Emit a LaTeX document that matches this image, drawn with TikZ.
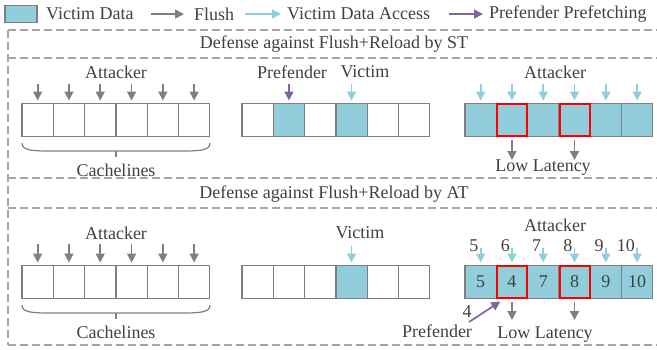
\documentclass[tikz,border=0pt]{standalone}
\usepackage{fontspec}
\setmainfont{Liberation Serif}
\usetikzlibrary{calc}
\usetikzlibrary{arrows.meta}
\usetikzlibrary{positioning}

\definecolor{victimblue}{HTML}{92CDDC}
\definecolor{flushgray}{HTML}{7F7F7F}
\definecolor{prefpurple}{HTML}{8064A2}
\definecolor{framegray}{HTML}{A6A6A6}
\definecolor{textgray}{HTML}{404040}

\tikzset{
  cell/.style={draw=flushgray, line width=1.2pt, minimum width=31.3pt, minimum height=33pt, inner sep=0pt, outer sep=0pt},
  vcell/.style={cell, fill=victimblue},
  hitcell/.style={draw=red, line width=2pt, minimum width=30pt, minimum height=32pt, inner sep=0pt},
  flush/.style={flushgray, line width=1.7pt, -{Triangle[width=9pt,length=9pt]}},
  access/.style={flush, victimblue},
  prefetch/.style={flush, prefpurple},
  gap/.style={shorten >=3pt},
  gapout/.style={shorten <=3pt},
  frameline/.style={framegray, line width=1.2pt, dash pattern=on 8pt off 4pt},
  txt/.style={inner sep=1pt}
}

\begin{document}
\begin{tikzpicture}[x=1pt,y=-1pt,font=\fontsize{18}{20}\selectfont,text=textgray]
  \useasboundingbox (0,0) rectangle (657,349);

  % legend
  \node[vcell, minimum width=32pt, minimum height=17pt] (key) at (21,14) {};
  \node[txt, anchor=west] (keyv) at (45,14) {Victim Data};
  \coordinate (kf1) at (151,14); \coordinate (kf2) at (184,14);
  \draw[flush] (kf1) -- (kf2);
  \node[txt, anchor=west] (keyf) at (193,14) {Flush};
  \coordinate (ka1) at (245,14); \coordinate (ka2) at (281,14);
  \draw[access] (ka1) -- (ka2);
  \node[txt, anchor=west] (keya) at (286,14) {Victim Data Access};
  \coordinate (kp1) at (449,14); \coordinate (kp2) at (483,14);
  \draw[prefetch] (kp1) -- (kp2);
  \node[txt, anchor=west] (keyp) at (488,14) {Prefender Prefetching};

  % frame
  \foreach \y in {30,58,178,208,345}
    \draw[frameline] (8,\y) -- (657,\y);
  \draw[frameline] (8,30) -- (8,345);
  \node[txt] (title1) at (334,44) {Defense against Flush+Reload by ST};
  \node[txt] (title2) at (334,194) {Defense against Flush+Reload by AT};

  % ST: attacker flushes
  \foreach \i in {1,...,6} {
    \node[cell] (s1a\i) at ({22+31.3*(\i-0.5)},120) {};
    \coordinate[above=20pt of s1a\i] (s1f\i);
    \draw[flush,gap] (s1f\i) -- (s1a\i);
  }
  \node[txt] (s1att) at (116,72) {Attacker};
  \draw[flushgray, line width=1.2pt] (22,143) .. controls (22,150) and (30,151) .. (50,151) -- (182,151)
    .. controls (202,151) and (210,150) .. (210,143);
  \draw[flushgray, line width=1.2pt] (116,151) -- (116,157);
  \node[txt] (s1cl) at (116,170) {Cachelines};

  % ST: victim and prefender
  \foreach \i/\c in {1/white,2/victimblue,3/white,4/victimblue,5/white,6/white}
    \node[cell, fill=\c] (s1v\i) at ({242+31.3*(\i-0.5)},120) {};
  \coordinate[above=20pt of s1v2] (s1p);
  \draw[prefetch,gap] (s1p) -- (s1v2);
  \coordinate[above=20pt of s1v4] (s1q);
  \draw[access,gap] (s1q) -- (s1v4);
  \node[txt] (s1pl) at (292,72) {Prefender};
  \node[txt] (s1vl) at (365,72) {Victim};

  % ST: attacker reloads
  \foreach \i in {1,...,6} {
    \node[vcell] (s1t\i) at ({465+31.3*(\i-0.5)},120) {};
    \coordinate[above=20pt of s1t\i] (s1r\i);
    \draw[access,gap] (s1r\i) -- (s1t\i);
  }
  \foreach \i in {2,4} {
    \node[hitcell] (s1h\i) at (s1t\i) {};
    \coordinate[below=23.5pt of s1t\i] (s1l\i);
    \draw[flush,gapout] (s1t\i) -- (s1l\i);
  }
  \node[txt] (s1att2) at (555,72) {Attacker};
  \node[txt] (s1low) at (543,168) {Low Latency};

  % AT: attacker flushes
  \foreach \i in {1,...,6} {
    \node[cell] (s2a\i) at ({22+31.3*(\i-0.5)},282) {};
    \coordinate[above=22pt of s2a\i] (s2f\i);
    \draw[flush,gap] (s2f\i) -- (s2a\i);
  }
  \node[txt] (s2att) at (116,233) {Attacker};
  \draw[flushgray, line width=1.2pt] (22,305) .. controls (22,312) and (30,313) .. (50,313) -- (182,313)
    .. controls (202,313) and (210,312) .. (210,305);
  \draw[flushgray, line width=1.2pt] (116,313) -- (116,319);
  \node[txt] (s2cl) at (116,332) {Cachelines};

  % AT: victim
  \foreach \i/\c in {1/white,2/white,3/white,4/victimblue,5/white,6/white}
    \node[cell, fill=\c] (s2v\i) at ({242+31.3*(\i-0.5)},282) {};
  \coordinate[above=20pt of s2v4] (s2q);
  \draw[access,gap] (s2q) -- (s2v4);
  \node[txt] (s2vl) at (360,233) {Victim};

  % AT: attacker reloads, prefender shifts
  \foreach \i/\n/\m in {1/5/5,2/4/6,3/7/7,4/8/8,5/9/9,6/10/10} {
    \node[vcell] (s2t\i) at ({465+31.3*(\i-0.5)},282) {\n};
    \coordinate[above=18pt of s2t\i] (s2r\i);
    \draw[access,gap] (s2r\i) -- (s2t\i);
    \node[txt, anchor=east] (s2n\i) at ($(s2r\i)+(-1,-2)$) {\m};
  }
  \foreach \i in {2,4} {
    \node[hitcell] (s2h\i) at (s2t\i) {};
    \coordinate[below=21.5pt of s2t\i] (s2l\i);
    \draw[flush,gapout] (s2t\i) -- (s2l\i);
  }
  \node[txt] (s2att2) at (555,225) {Attacker};
  \node[txt] (s2low) at (545,335) {Low Latency};
  \coordinate (s2p) at (469,322);
  \coordinate (s2pe) at ([xshift=4pt,yshift=-3pt]s2t2.south west);
  \draw[prefetch] (s2p) -- (s2pe);
  \node[txt] (s2four) at (467,312) {4};
  \node[txt] (s2pl) at (437,331) {Prefender};
\end{tikzpicture}
\end{document}
